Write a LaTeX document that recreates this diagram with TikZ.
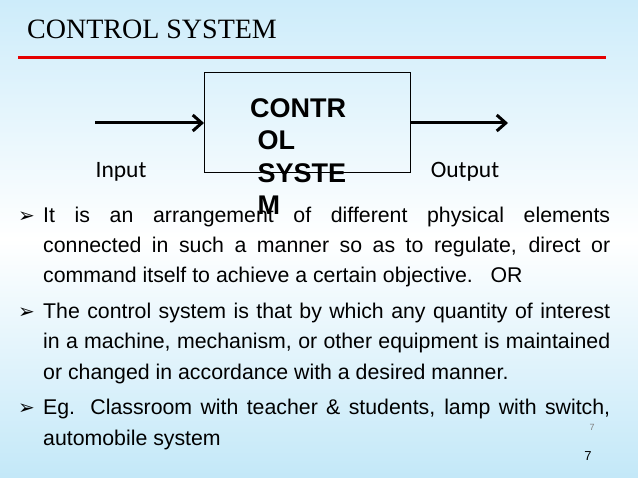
\documentclass[tikz,border=0pt]{standalone}
\usepackage{fontspec}
\setmainfont{Liberation Sans}
\newfontfamily\titlefont{Liberation Serif}
\newfontfamily\calfont{Carlito}
\newfontfamily\symfont{DejaVu Sans}
\usetikzlibrary{arrows.meta}
\begin{document}
\begin{tikzpicture}[x=1pt,y=-1pt,
  body/.style={anchor=west,inner sep=0pt,font=\fontsize{21.3}{24}\selectfont},
  arr/.style={line width=3pt,-{Straight Barb[length=9pt,width=16pt,line width=3pt]}},
  lbl/.style={font=\calfont\fontsize{23.5}{26}\selectfont,inner sep=0pt}]
\shade[top color={rgb,255:red,205;green,236;blue,250},bottom color={rgb,255:red,195;green,232;blue,248},middle color=white] (0,0) rectangle (638,478);
\useasboundingbox (0,0) rectangle (638,478);
\node[anchor=west,inner sep=0pt,font=\titlefont\fontsize{28}{30}\selectfont] (title) at (27,29) {CONTROL SYSTEM};
\draw[red!90!black,line width=3pt] (18,58) -- (606,58);
\node[draw,line width=1pt,minimum width=206pt,minimum height=100pt,inner sep=0pt] (box) at (307.5,123) {};
\coordinate (in) at (95,123);
\coordinate (out) at (508,123);
\draw[arr] (in) -- (box.west);
\draw[arr] (box.east) -- (out);
\node[anchor=north west,inner sep=0pt,align=left,font=\bfseries\fontsize{27}{32.5}\selectfont] (bt) at (250,98) {CONTR\\\ OL\\\ SYSTE\\\ M};
\node[lbl] (inl) at (121,172) {Input};
\node[lbl] (outl) at (465,172) {Output};
\foreach \y/\t/\j in {
 217/{It is an arrangement of different physical elements}/1,
 247/{connected in such a manner so as to regulate, direct or}/1,
 277/{command itself to achieve a certain objective.\ \ \ OR}/0,
 313/{The control system is that by which any quantity of interest}/1,
 343/{in a machine, mechanism, or other equipment is maintained}/1,
 374/{or changed in accordance with a desired manner.}/0,
 409/{Eg. Classroom with teacher \& students, lamp with switch,}/1,
 440/{automobile system}/0}{
  \node[body] at (43,\y) {\ifnum\j=1 \makebox[567pt][s]{\t}\else\t\fi};
}
\foreach \y in {217,313,409}{\node[anchor=west,inner sep=0pt,font=\symfont\bfseries\fontsize{20}{22}\selectfont] at (18,\y) {➢};}
\node[inner sep=0pt,font=\fontsize{9}{10}\selectfont,text=gray] (p1) at (592,427) {7};
\node[inner sep=0pt,font=\fontsize{13}{14}\selectfont] (p2) at (588,456) {7};
\end{tikzpicture}
\end{document}
